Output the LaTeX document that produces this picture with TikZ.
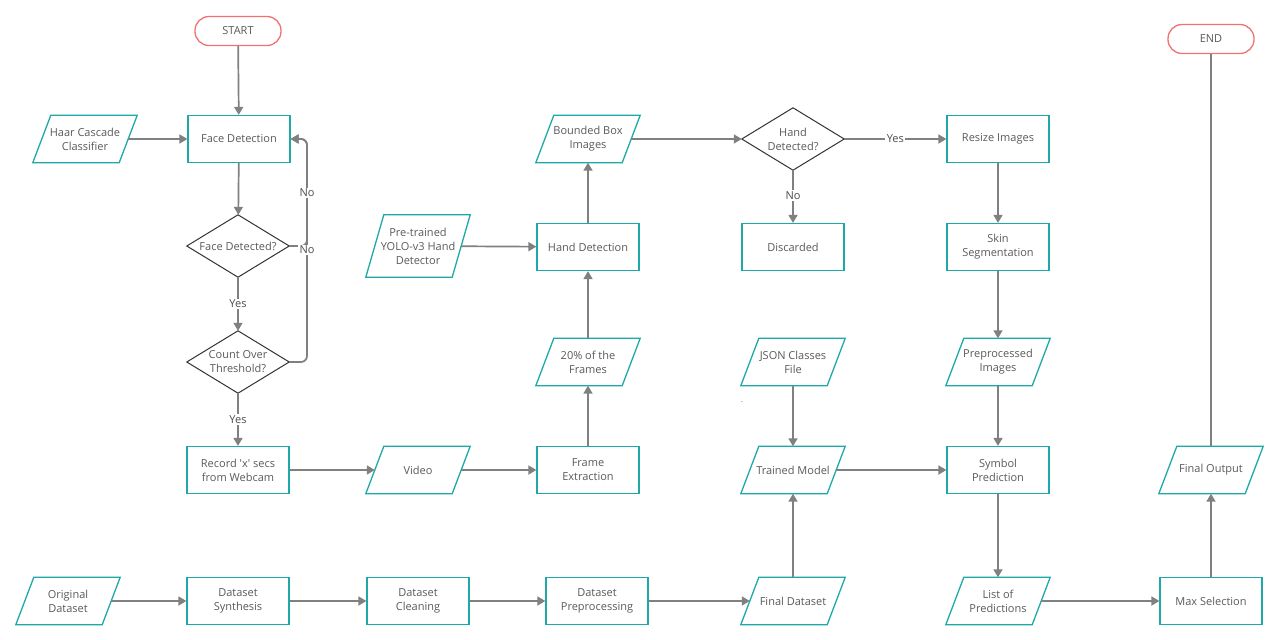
\documentclass[tikz,border=0pt]{standalone}
\usepackage{fontspec}
\setmainfont{Open Sans}
\usetikzlibrary{shapes.geometric,arrows.meta,calc}
\definecolor{tealc}{HTML}{1FA8A8}
\definecolor{termc}{HTML}{F07272}
\definecolor{linec}{HTML}{808080}
\definecolor{txtc}{HTML}{5A5A5A}
\begin{document}
\begin{tikzpicture}[x=1pt,y=-1pt,
  base/.style={font=\fontsize{11}{14}\selectfont, text=txtc, align=center, inner sep=0pt},
  proc/.style={base, rectangle, draw=tealc, line width=1.3pt, minimum width=102pt, minimum height=47pt},
  io/.style={base, rectangle, minimum width=86pt, minimum height=47pt},
  term/.style={base, rectangle, rounded corners=14pt, draw=termc, line width=1.3pt, minimum width=86pt, minimum height=29pt},
  dec/.style={base, rectangle, minimum width=102pt, minimum height=62pt},
  arr/.style={draw=linec, line width=1.7pt, -{Triangle[length=8pt,width=9pt]}},
  plain/.style={draw=linec, line width=1.7pt},
  lbl/.style={font=\fontsize{11}{12}\selectfont, text=txtc!85!black, fill=white, inner sep=1.5pt}
]
\useasboundingbox (0,0) rectangle (1280,640);
\fill[white] (0,0) rectangle (1280,640);

% nodes
\node[term] (start) at (238,31) {START};
\node[proc] (face) at (239,139) {Face Detection};
\node[io] (haar) at (85,139) {Haar Cascade\\Classifier};
\node[dec] (fdq) at (238,246) {Face Detected?};
\node[dec] (cot) at (238,362) {Count Over\\Threshold?};
\node[proc] (rec) at (238,470) {Record \textquotesingle x\textquotesingle{} secs\\from Webcam};
\node[io] (video) at (418,470) {Video};
\node[proc] (frame) at (588,470) {Frame\\Extraction};
\node[io] (pct) at (588,362) {20\% of the\\Frames};
\node[proc] (hand) at (588,247) {Hand Detection};
\node[io, minimum height=62pt] (yolo) at (418,246) {Pre-trained\\YOLO-v3 Hand\\Detector};
\node[io] (bbi) at (588,139) {Bounded Box\\Images};
\node[dec] (hdq) at (793,139) {Hand\\Detected?};
\node[proc] (resize) at (998,139) {Resize Images};
\node[proc] (disc) at (793,247) {Discarded};
\node[proc] (skin) at (998,247) {Skin\\Segmentation};
\node[io] (pre) at (998,362) {Preprocessed\\Images};
\node[proc] (sym) at (998,470) {Symbol\\Prediction};
\node[io] (json) at (793,362) {JSON Classes\\File};
\node[io] (trained) at (793,470) {Trained Model};
\node[io] (fds) at (793,601) {Final Dataset};
\node[io] (list) at (998,601) {List of\\Predictions};
\node[proc] (max) at (1211,601) {Max Selection};
\node[io] (fout) at (1211,470) {Final Output};
\node[term] (end) at (1211,39) {END};
\node[io] (orig) at (68,601) {Original\\Dataset};
\node[proc] (syn) at (238,601) {Dataset\\Synthesis};
\node[proc] (clean) at (418,601) {Dataset\\Cleaning};
\node[proc] (dpre) at (597,601) {Dataset\\Preprocessing};
\node[base, font=\fontsize{6}{6}\selectfont] (dot) at (742,403) {-};

% parallelograms
\foreach \n in {haar,video,pct,yolo,bbi,pre,json,trained,fds,list,fout,orig}{
  \draw[tealc, line width=1.3pt, line join=miter]
    ($(\n.south west)+(-9,0)$) -- ($(\n.north west)+(9,0)$) --
    ($(\n.north east)+(9,0)$) -- ($(\n.south east)+(-9,0)$) -- cycle;
}
% diamonds
\foreach \n in {fdq,cot,hdq}{
  \draw[black!80, line width=1pt] (\n.west) -- (\n.north) -- (\n.east) -- (\n.south) -- cycle;
}

% connectors
\coordinate (loopA) at (307,139);
\draw[arr] (start) -- (face);
\draw[arr] (haar) -- (face);
\draw[arr] (face) -- (fdq);
\draw[arr] (fdq) -- node[lbl, pos=0.5] {Yes} (cot);
\draw[arr] (cot) -- node[lbl, pos=0.5] {Yes} (rec);
\draw[arr, rounded corners=6pt] (fdq.east) -| (loopA) -- (face.east);
\draw[arr, rounded corners=6pt] (cot.east) -| (loopA) -- (face.east);
\node[lbl] at (307,193) {No};
\node[lbl] at (307,250) {No};
\draw[arr] (rec) -- (video);
\draw[arr] (video) -- (frame);
\draw[arr] (frame) -- (pct);
\draw[arr] (pct) -- (hand);
\draw[arr] (yolo) -- (hand);
\draw[arr] (hand) -- (bbi);
\draw[arr] (bbi) -- (hdq);
\draw[arr] (hdq) -- node[lbl, pos=0.5] {Yes} (resize);
\draw[arr] (hdq) -- node[lbl, pos=0.48] {No} (disc);
\draw[arr] (resize) -- (skin);
\draw[arr] (skin) -- (pre);
\draw[arr] (pre) -- (sym);
\draw[arr] (json) -- (trained);
\draw[arr] (trained) -- (sym);
\draw[arr] (sym) -- (list);
\draw[arr] (list) -- (max);
\draw[arr] (max) -- (fout);
\draw[plain] (fout) -- (end);
\draw[arr] (orig) -- (syn);
\draw[arr] (syn) -- (clean);
\draw[arr] (clean) -- (dpre);
\draw[arr] (dpre) -- (fds);
\draw[arr] (fds) -- (trained);
\end{tikzpicture}
\end{document}
